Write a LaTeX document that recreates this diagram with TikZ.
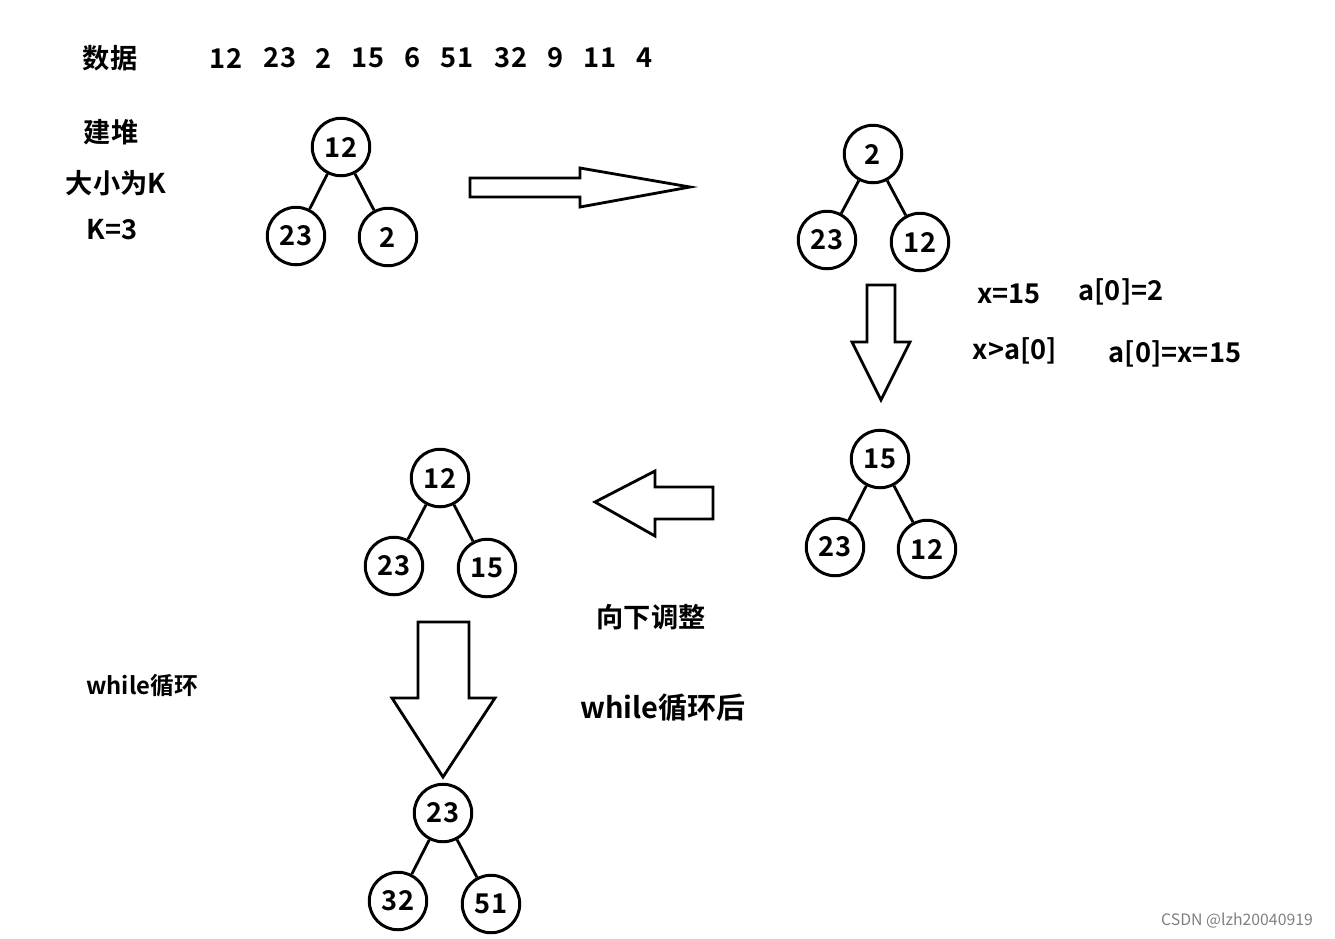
\documentclass[tikz,border=0pt]{standalone}
\usepackage{fontspec}
\setmainfont{Noto Sans CJK SC}[BoldFont={* Bold}]
\begin{document}
\begin{tikzpicture}[x=0.02cm,y=-0.02cm,
  nd/.style={circle,draw,line width=1.7pt,minimum size=1.15cm,inner sep=0pt,font=\fontsize{15.5}{15.5}\selectfont\bfseries},
  lb/.style={font=\fontsize{15.5}{15.5}\selectfont\bfseries},
  ed/.style={line width=1.6pt},
  ar/.style={draw,line width=1.6pt}]
\useasboundingbox (0,0) rectangle (1335,938);
\node[lb] (t0) at (110,58) {数据};
\node[lb] (n1) at (226,58) {12};\node[lb] (n2) at (280,58) {23};\node[lb] (n3) at (324,58) {2};
\node[lb] (n4) at (368,58) {15};\node[lb] (n5) at (413,58) {6};\node[lb] (n6) at (457,58) {51};
\node[lb] (n7) at (511,58) {32};\node[lb] (n8) at (556,58) {9};\node[lb] (n9) at (600,58) {11};
\node[lb] (n10) at (645,58) {4};
\node[lb] (l1) at (111,132) {建堆};
\node[lb] (l2) at (116,183) {大小为K};
\node[lb] (l3) at (112,230) {K=3};
\node[lb] (l4) at (1009,294) {x=15};
\node[lb] (l5) at (1121,292) {a[0]=2};
\node[lb] (l6) at (1015,351) {x>a[0]};
\node[lb] (l7) at (1175,354) {a[0]=x=15};
\node[lb] (l8) at (651,617) {向下调整};
\node[font=\fontsize{13.5}{13.5}\selectfont\bfseries] (l9) at (142,686) {while循环};
\node[font=\fontsize{16.5}{16.5}\selectfont\bfseries] (l10) at (663,708) {while循环后};
\node[text=gray,font=\fontsize{9}{9}\selectfont] (wm) at (1237,921) {CSDN @lzh20040919};
\foreach \p/\rx/\ry/\lx/\ly/\qx/\qy/\a/\b/\c in {
 A/341/147/296/236/388/237/12/23/2,
 B/873/154/827/240/920/242/2/23/12,
 C/880/459/835/547/927/549/15/23/12,
 D/440/478/394/566/487/568/12/23/15,
 E/443/813/398/901/491/904/23/32/51}{
 \node[nd] (\p r) at (\rx,\ry) {\a};
 \node[nd] (\p l) at (\lx,\ly) {\b};
 \node[nd] (\p q) at (\qx,\qy) {\c};
 \draw[ed] (\p r) -- (\p l);
 \draw[ed] (\p r) -- (\p q);
}
\draw[ar] (470,178) -- (580,178) -- (580,168) -- (690,187) -- (580,207) -- (580,197) -- (470,197) -- cycle;
\draw[ar] (867,285) -- (895,285) -- (895,342) -- (910,342) -- (881,400) -- (852,342) -- (867,342) -- cycle;
\draw[ar] (713,487) -- (655,487) -- (655,471) -- (595,502) -- (655,536) -- (655,519) -- (713,519) -- cycle;
\draw[ar] (418,622) -- (469,622) -- (469,698) -- (495,698) -- (443,777) -- (392,698) -- (418,698) -- cycle;
\end{tikzpicture}
\end{document}
